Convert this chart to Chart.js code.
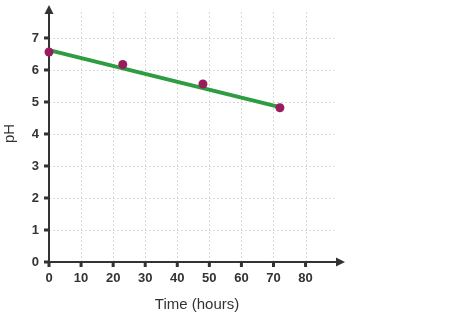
<!DOCTYPE html>
<html>
<head>
<meta charset="utf-8">
<script src="https://cdn.jsdelivr.net/npm/chart.js@4/dist/chart.umd.min.js"></script>
<style>
  html, body { margin: 0; padding: 0; background: #fff; }
  #wrap { width: 464px; height: 322px; }
</style>
</head>
<body>
<div id="wrap"><canvas id="c" width="464" height="322"></canvas></div>
<script>
// ---- data ----
const timeHours = [0, 23, 48, 72];
const phValues = [6.56, 6.17, 5.56, 4.82];
const fitTime = [0, 72];
const fitPh = [6.62, 4.84];
const xTickValues = [0, 10, 20, 30, 40, 50, 60, 70, 80];
const yTickValues = [0, 1, 2, 3, 4, 5, 6, 7];
const xTitle = 'Time (hours)';
const yTitle = 'pH';

const AXIS_COLOR = '#333333';
const GRID_COLOR = '#d9d9d9';

const axesPlugin = {
  id: 'axesPlugin',
  beforeDatasetsDraw(chart) {
    const ctx = chart.ctx;
    const xs = chart.scales.x, ys = chart.scales.y;
    const x0 = xs.getPixelForValue(0), y0 = ys.getPixelForValue(0);
    const gridTopY = ys.getPixelForValue(7.88);
    const gridRightX = xs.getPixelForValue(89);
    ctx.save();
    // dashed grid
    ctx.strokeStyle = GRID_COLOR;
    ctx.lineWidth = 1;
    ctx.setLineDash([2, 2]);
    xTickValues.forEach(v => {
      if (v === 0) return;
      const px = Math.round(xs.getPixelForValue(v)) + 0.5;
      ctx.beginPath(); ctx.moveTo(px, y0); ctx.lineTo(px, gridTopY); ctx.stroke();
    });
    yTickValues.forEach(v => {
      if (v === 0) return;
      const py = Math.round(ys.getPixelForValue(v)) + 0.5;
      ctx.beginPath(); ctx.moveTo(x0, py); ctx.lineTo(gridRightX, py); ctx.stroke();
    });
    ctx.setLineDash([]);
    // axis lines
    const xEnd = xs.getPixelForValue(xs.max);
    const yEnd = ys.getPixelForValue(ys.max);
    ctx.strokeStyle = AXIS_COLOR;
    ctx.fillStyle = AXIS_COLOR;
    ctx.lineWidth = 2;
    ctx.beginPath(); ctx.moveTo(x0 - 1, y0); ctx.lineTo(xEnd - 6, y0); ctx.stroke();
    ctx.beginPath(); ctx.moveTo(x0, y0 + 4); ctx.lineTo(x0, yEnd + 6); ctx.stroke();
    // arrow heads
    ctx.beginPath();
    ctx.moveTo(xEnd, y0); ctx.lineTo(xEnd - 9, y0 - 4.5); ctx.lineTo(xEnd - 9, y0 + 4.5); ctx.closePath(); ctx.fill();
    ctx.beginPath();
    ctx.moveTo(x0, yEnd); ctx.lineTo(x0 - 4.5, yEnd + 9); ctx.lineTo(x0 + 4.5, yEnd + 9); ctx.closePath(); ctx.fill();
    // square tick marks
    xTickValues.forEach(v => {
      const px = xs.getPixelForValue(v);
      ctx.fillRect(px - 1.5, y0, 3, 5);
    });
    yTickValues.forEach(v => {
      const py = ys.getPixelForValue(v);
      ctx.fillRect(x0 - 5, py - 1.5, 5, 3);
    });
    ctx.restore();
  }
};

function zeroPad(s) { s.paddingTop = 0; s.paddingBottom = 0; s.paddingLeft = 0; s.paddingRight = 0; }

new Chart(document.getElementById('c'), {
  type: 'scatter',
  data: {
    datasets: [
      {
        label: 'fit',
        data: fitTime.map((t, i) => ({ x: t, y: fitPh[i] })),
        showLine: true,
        borderColor: '#2e9c41',
        borderWidth: 4,
        pointRadius: 0,
        clip: false,
        order: 2
      },
      {
        label: 'measured',
        data: timeHours.map((t, i) => ({ x: t, y: phValues[i] })),
        backgroundColor: '#9b1c5c',
        borderColor: '#9b1c5c',
        pointRadius: 4.5,
        pointBorderWidth: 0,
        clip: false,
        order: 1
      }
    ]
  },
  plugins: [axesPlugin],
  options: {
    responsive: false,
    animation: false,
    devicePixelRatio: 1,
    layout: { padding: { top: 5, right: 119, bottom: 0, left: 0 } },
    plugins: { legend: { display: false }, tooltip: { enabled: false } },
    scales: {
      x: {
        type: 'linear',
        min: 0,
        max: 92.3,
        afterBuildTicks(s) { s.ticks = xTickValues.map(v => ({ value: v })); },
        afterFit(s) { s.height = 60; zeroPad(s); },
        grid: { display: true, color: 'transparent', drawTicks: true, tickLength: 5, tickColor: 'transparent' },
        border: { display: false },
        ticks: {
          color: AXIS_COLOR,
          padding: 4,
          maxRotation: 0,
          autoSkip: false,
          font: { family: 'Liberation Sans, Arial, sans-serif', size: 13, weight: 'bold' }
        },
        title: {
          display: true,
          text: xTitle,
          color: AXIS_COLOR,
          padding: { top: 4, bottom: 8 },
          font: { family: 'Liberation Sans, Arial, sans-serif', size: 15, weight: 'normal' }
        }
      },
      y: {
        type: 'linear',
        min: 0,
        max: 8.03,
        afterBuildTicks(s) { s.ticks = yTickValues.map(v => ({ value: v })); },
        afterFit(s) { s.width = 49; zeroPad(s); },
        grid: { display: true, color: 'transparent', drawTicks: true, tickLength: 5, tickColor: 'transparent' },
        border: { display: false },
        ticks: {
          color: AXIS_COLOR,
          padding: 5,
          autoSkip: false,
          font: { family: 'Liberation Sans, Arial, sans-serif', size: 13, weight: 'bold' }
        },
        title: {
          display: true,
          text: yTitle,
          color: AXIS_COLOR,
          padding: { top: 1, bottom: 0 },
          font: { family: 'Liberation Sans, Arial, sans-serif', size: 15, weight: 'normal' }
        }
      }
    }
  }
});
</script>
</body>
</html>
